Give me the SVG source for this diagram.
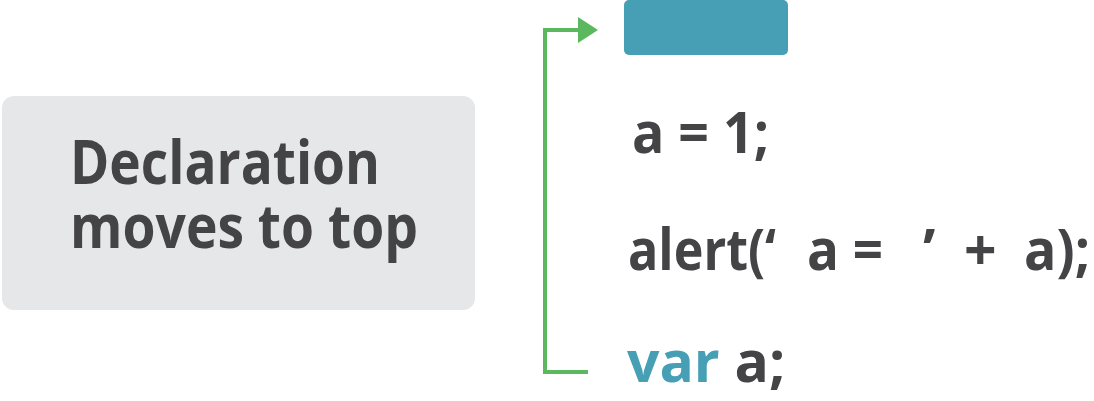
<svg xmlns="http://www.w3.org/2000/svg" width="1094" height="401" viewBox="0 0 1094 401">
<style>
.t{font-family:"Open Sans","Noto Sans","Liberation Sans",sans-serif;font-weight:700;fill:#444446}
.lbl{font-size:61px}
.code{font-size:57px}
.kw{fill:#479fb5}
.conn{fill:none;stroke:#5cb85f;stroke-width:4}
</style>
<defs>
<marker id="ah" viewBox="0 0 20 26" refX="0" refY="13" markerWidth="20" markerHeight="26" markerUnits="userSpaceOnUse" orient="auto">
<path d="M0,0 L20,13 L0,26 Z" fill="#5cb85f"/>
</marker>
</defs>
<rect width="1094" height="401" fill="#ffffff"/>
<g id="label-node">
<rect x="2" y="96" width="473" height="214" rx="12" fill="#e6e7e9"/>
<text class="t lbl"><tspan x="70" y="184" textLength="310" lengthAdjust="spacingAndGlyphs">Declaration</tspan><tspan x="70" y="248" textLength="348" lengthAdjust="spacingAndGlyphs">moves to top</tspan></text>
</g>
<g id="slot-node">
<rect x="624" y="0" width="164" height="55" rx="5" fill="#479fb5"/>
</g>
<g id="line1-node">
<text class="t code" x="632" y="153" textLength="137" lengthAdjust="spacingAndGlyphs">a = 1;</text>
</g>
<g id="line2-node">
<text class="t code" x="628" y="270" textLength="148" lengthAdjust="spacingAndGlyphs">alert(‘</text>
<text class="t code" x="807" y="270" textLength="76" lengthAdjust="spacingAndGlyphs">a =</text>
<text class="t code" x="923" y="270">’</text>
<text class="t code" x="964" y="270">+</text>
<text class="t code" x="1024" y="270" textLength="66" lengthAdjust="spacingAndGlyphs">a);</text>
</g>
<g id="line3-node">
<text class="t code" x="627" y="382"><tspan class="kw">var</tspan> a;</text>
</g>
<g id="connectors">
<polyline class="conn" points="588,372 545,372 545,30 578,30" marker-end="url(#ah)"/>
</g>
</svg>
